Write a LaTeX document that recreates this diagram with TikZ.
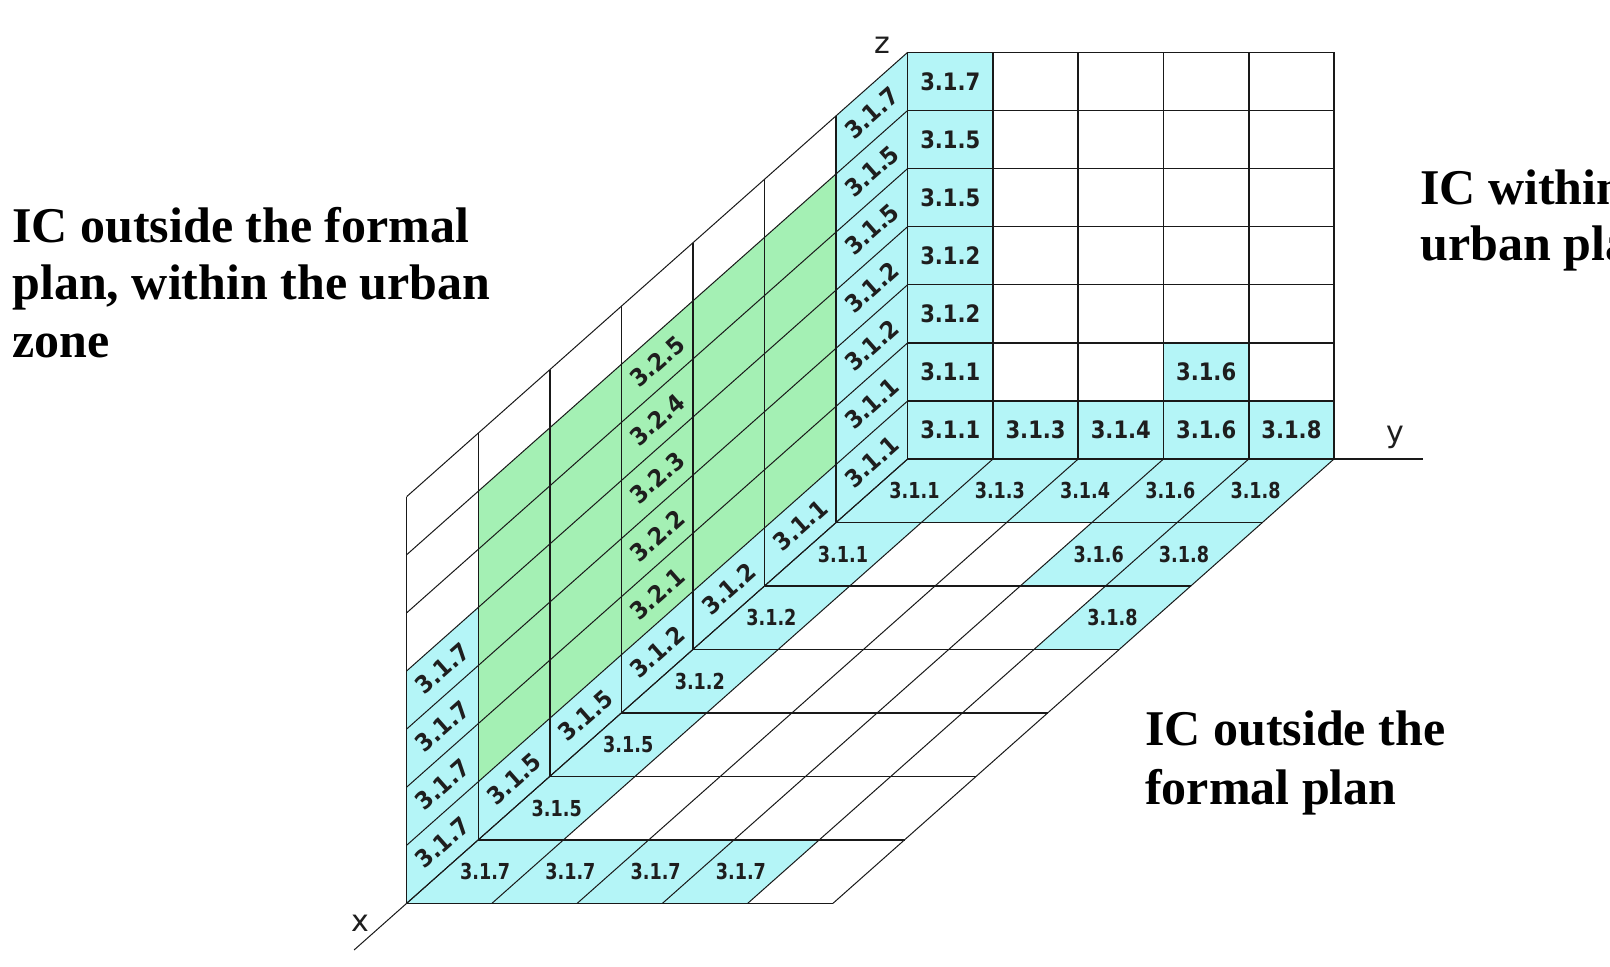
\documentclass[tikz,border=0pt]{standalone}
\usepackage{fontspec}
\setmainfont{Liberation Serif}
\newfontfamily\lblfont{DejaVu Sans}
\definecolor{cyanc}{RGB}{180,245,247}
\definecolor{greenc}{RGB}{164,240,180}
\definecolor{linec}{RGB}{25,25,25}
\definecolor{txtc}{RGB}{30,30,30}
\newcommand\bwcell[3]{\fill[#3] (0,#1,#2) -- (0,#1+1,#2) -- (0,#1+1,#2+1) -- (0,#1,#2+1) -- cycle;}
\newcommand\lwcell[3]{\fill[#3] (#1,0,#2) -- (#1+1,0,#2) -- (#1+1,0,#2+1) -- (#1,0,#2+1) -- cycle;}
\newcommand\flcell[3]{\fill[#3] (#1,#2,0) -- (#1+1,#2,0) -- (#1+1,#2+1,0) -- (#1,#2+1,0) -- cycle;}
\begin{document}
\begin{tikzpicture}[x=1pt,y=-1pt,
  hv/.style={draw=linec,line width=1.5pt},
  ob/.style={draw=linec,line width=1pt},
  wl/.style={font=\lblfont\bfseries\fontsize{24}{24}\selectfont,text=txtc,inner sep=0pt,xscale=0.88},
  fl/.style={font=\lblfont\bfseries\fontsize{22}{22}\selectfont,text=txtc,inner sep=0pt,xscale=0.8},
  sl/.style={font=\lblfont\bfseries\fontsize{24}{24}\selectfont,text=txtc,inner sep=0pt,rotate=41.56,xscale=0.92},
  ax/.style={font=\lblfont\fontsize{30}{30}\selectfont,text=txtc,inner sep=0pt},
  big/.style={font=\bfseries\fontsize{50}{58}\selectfont,text=black,inner sep=0pt,anchor=base west},
]
\useasboundingbox (0,0) rectangle (1610,967);
\clip (0,0) rectangle (1610,967);
\fill[white] (0,0) rectangle (1610,967);

\begin{scope}[shift={(907.7,459)}, x={(-71.57pt,-63.47pt)}, y={(85.26pt,0pt)}, z={(0pt,58.1pt)}]
  % ---- fills: back wall
  \foreach \j/\k in {0/0,1/0,2/0,3/0,4/0,0/1,3/1,0/2,0/3,0/4,0/5,0/6} {\bwcell{\j}{\k}{cyanc}}
  % ---- fills: left wall
  \foreach \k in {0,...,6} {\lwcell{0}{\k}{cyanc}}
  \foreach \i in {1,...,5} {\lwcell{\i}{0}{cyanc}}
  \foreach \k in {0,...,3} {\lwcell{6}{\k}{cyanc}}
  \foreach \i in {1,...,5} {\foreach \k in {1,...,5} {\lwcell{\i}{\k}{greenc}}}
  % ---- fills: floor
  \foreach \i/\j in {0/0,0/1,0/2,0/3,0/4,1/0,1/3,1/4,2/0,2/4,3/0,4/0,5/0,6/0,6/1,6/2,6/3} {\flcell{\i}{\j}{cyanc}}

  % ---- grid lines
  \foreach \k in {0,...,7} {\draw[ob] (0,0,\k) -- (7,0,\k);}
  \foreach \j in {0,...,5} {\draw[ob] (0,\j,0) -- (7,\j,0);}
  \foreach \j in {0,...,5} {\draw[hv] (0,\j,0) -- (0,\j,7);}
  \foreach \k in {1,...,7} {\draw[hv] (0,0,\k) -- (0,5,\k);}
  \foreach \i in {0,...,7} {\draw[hv] (\i,0,0) -- (\i,0,7);}
  \foreach \i in {1,...,7} {\draw[hv] (\i,0,0) -- (\i,5,0);}
  % axes
  \coordinate (O) at (0,0,0);
  \coordinate (yend) at (0,6.04,0);
  \coordinate (xstart) at (7,0,0);
  \coordinate (xend) at (7.735,0,0);
  \draw[hv] (O) -- (yend);
  \draw[ob] (xstart) -- (xend);

  % ---- labels: back wall
  \foreach \j/\k/\t in {0/6/3.1.7,0/5/3.1.5,0/4/3.1.5,0/3/3.1.2,0/2/3.1.2,0/1/3.1.1,3/1/3.1.6,
                        0/0/3.1.1,1/0/3.1.3,2/0/3.1.4,3/0/3.1.6,4/0/3.1.8}
    {\node[wl] (bw\j\k) at (0,\j+0.5,\k+0.5) {\t};}
  % ---- labels: left wall
  \foreach \i/\k/\t in {0/6/3.1.7,0/5/3.1.5,0/4/3.1.5,0/3/3.1.2,0/2/3.1.2,0/1/3.1.1,0/0/3.1.1,
                        1/0/3.1.1,2/0/3.1.2,3/0/3.1.2,4/0/3.1.5,5/0/3.1.5,
                        6/0/3.1.7,6/1/3.1.7,6/2/3.1.7,6/3/3.1.7,
                        3/1/3.2.1,3/2/3.2.2,3/3/3.2.3,3/4/3.2.4,3/5/3.2.5}
    {\node[sl] (lw\i\k) at (\i+0.5,0,\k+0.5) {\t};}
  % ---- labels: floor
  \foreach \i/\j/\t in {0/0/3.1.1,0/1/3.1.3,0/2/3.1.4,0/3/3.1.6,0/4/3.1.8,
                        1/0/3.1.1,1/3/3.1.6,1/4/3.1.8,
                        2/0/3.1.2,2/4/3.1.8,3/0/3.1.2,4/0/3.1.5,5/0/3.1.5,
                        6/0/3.1.7,6/1/3.1.7,6/2/3.1.7,6/3/3.1.7}
    {\node[fl] (fl\i\j) at (\i+0.5,\j+0.5,0) {\t};}
\end{scope}

% axis labels
\node[ax] (zlab) at (882.7,45) {z};
\node[ax] (ylab) at (1395,437) {y};
\node[ax] (xlab) at (360,923) {x};

% texts
\node[big] (lt1) at (12.3,242) {IC outside the formal};
\node[big] (lt2) at (12.3,299.5) {plan, within the urban};
\node[big] (lt3) at (12.3,357) {zone};
\node[big] (rt1) at (1420,204) {IC within};
\node[big] (rt2) at (1420,260.7) {urban plan};
\node[big] (bt1) at (1145,745.5) {IC outside the};
\node[big] (bt2) at (1145,804) {formal plan};
\end{tikzpicture}
\end{document}
